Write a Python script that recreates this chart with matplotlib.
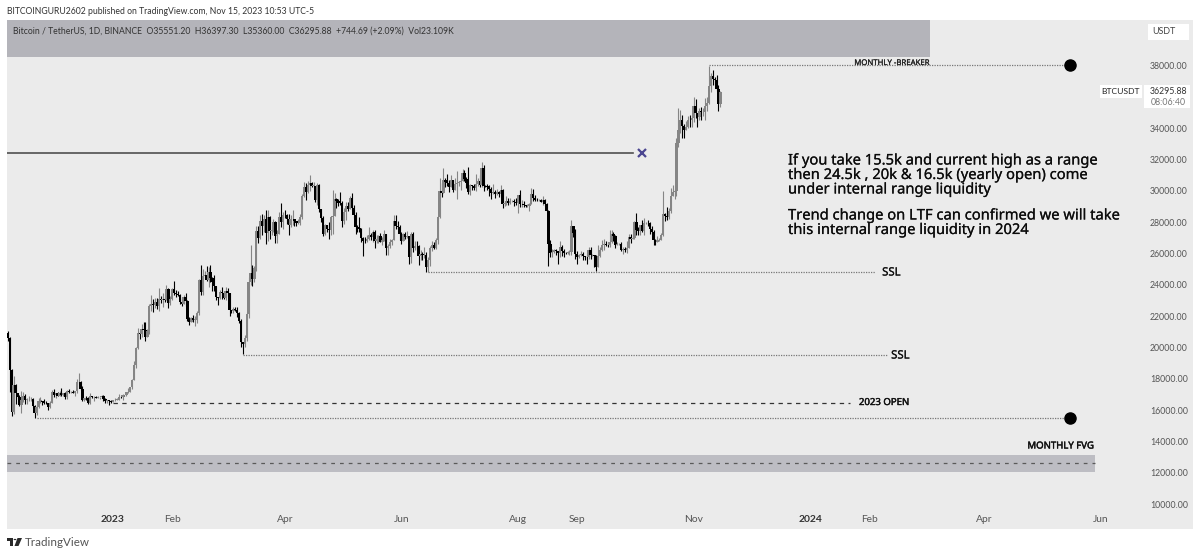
import matplotlib
matplotlib.use("Agg")
import matplotlib.pyplot as plt
import matplotlib.dates as mdates
import matplotlib.patheffects as pe
from matplotlib.patches import Rectangle, Polygon, Circle
import pandas as pd

closes = [
 20600,18540,15880,17590,17070,16810,16330,16620,16900,16660,16690,16700,16700,16280,15780,16220,16600,16600,16520,16460,16430,16210,16440,17160,
 16980,17090,16890,17110,16970,17090,16840,17220,17130,17130,17090,17210,17780,17810,17360,16630,16780,16740,16440,16900,16820,16830,16780,16840,16840,16920,16700,16550,16630,16600,16540,
 16620,16670,16670,16850,16830,16950,16940,17120,17180,17440,17940,18850,19930,20950,20870,21180,21130,20680,21070,22670,22780,22710,22920,22630,23060,23010,23080,23030,23740,22830,23120,
 23730,23490,23430,23330,22930,22760,23240,22960,21800,21630,21860,21780,21780,22200,24330,23520,24570,24630,24280,24840,24450,24190,23950,23190,23160,23560,23490,23140,
 23630,23470,22360,22350,22430,22410,22200,21700,20360,20190,20630,22160,24200,24750,24380,25050,27420,26970,28040,27770,28170,27310,28300,27450,27480,28000,27140,27270,28350,28030,28480,
 28450,28200,27810,28170,28170,28040,27920,27950,28330,29650,30240,29900,30400,30490,30320,30320,29440,30390,28820,28250,27260,27820,27590,27520,28310,28420,29480,29340,29240,29230,
 28070,28670,29030,28840,29530,28900,28450,27660,27630,27590,26970,26800,26780,26920,27170,27030,27400,26820,26890,27100,26750,26850,27220,26330,26470,26720,26870,28080,27740,27700,27210,
 26820,27250,27070,27120,25760,27240,26340,26500,26480,25850,25940,25900,25920,25120,25580,26340,26510,26340,26850,28310,30000,29890,30690,30550,30470,30270,30690,30080,30450,30470,
 30590,30620,31160,30770,30510,29900,30350,30290,30170,30410,30620,30390,31470,30320,30300,30250,30140,29860,29920,29800,29910,29800,30080,29180,29230,29350,29210,29320,29360,29280,29230,
 29700,29170,29180,29080,29040,29040,29180,29770,29560,29430,29400,29420,29280,29410,29170,28700,26620,26050,26100,26190,26130,26040,26430,26160,26050,26000,26090,26100,27720,27300,25940,
 25800,25870,25970,25810,25780,25750,26240,25900,25900,25840,25160,25840,26220,26530,26600,26570,26530,26760,27210,27130,26570,26580,26580,26250,26300,26210,26350,27030,26910,26960,
 27980,27500,27430,27790,27410,27930,27950,27920,27590,27390,26870,26760,26860,26860,27160,28500,28400,28320,28720,29680,29920,29990,33080,33900,34500,34150,33900,34090,34540,34490,34640,
 35420,34940,34730,35080,35040,35050,35420,35620,36700,37300,37130,37060,36490,35550,36296,
]
highs = [
 21050,20670,18590,18150,17660,17110,16930,17190,17130,17000,16740,16870,16820,16740,16290,16310,16770,16810,16600,16690,16600,16480,16600,17250,
 17320,17100,17160,17200,17430,17110,17140,17300,17360,17230,17270,17240,18000,18390,17840,17530,16800,16880,16820,17060,16920,16870,16880,16870,16860,16930,16950,16790,16650,16640,16640,
 16630,16760,16780,17040,16880,17040,16980,17170,17400,17490,18000,19100,20000,21260,21050,21470,21650,21650,21180,22750,23370,23080,23170,23160,23820,23280,23500,23190,23960,23770,23310,
 23810,24260,23680,23570,23440,23160,23360,23450,23010,21940,21910,22090,21990,22320,24380,25250,25020,24900,25190,25130,25280,24480,24600,23880,23240,23690,23880,23600,
 23880,23780,23480,22410,22610,22600,22550,22270,21820,20370,20790,22270,24500,26550,25250,25210,27760,27730,28470,28530,28440,28800,28750,28400,27800,28200,28040,27500,28650,29190,28650,
 28800,28530,28500,28450,28770,28190,28100,28180,28530,29770,30550,30490,30620,31000,30550,30550,30310,30490,30410,28740,28370,27880,27820,27980,28400,30020,29880,29570,29450,29950,
 29340,28880,29270,29260,29680,29850,29100,28630,27840,28330,27650,27040,27030,27200,27660,27290,27480,27490,27180,27150,27280,27050,27500,27220,26630,26930,26900,28450,28450,28040,27830,
 27340,27290,27340,27460,27130,27350,27400,26810,26780,26530,26210,26100,26430,26080,25750,26480,26770,26700,27000,28400,30800,30500,31430,30800,31060,30660,31000,30700,30830,31280,
 30650,30790,31380,31330,30890,31500,30450,30380,30450,31040,30810,30980,31820,31640,30390,30450,30340,30250,30410,30050,30100,29990,30350,30100,29350,29690,29570,29530,29410,29450,29530,
 29740,30050,29440,29320,29110,29170,29250,30190,30130,29710,29530,29470,29450,29640,29490,29230,28780,26830,26260,26300,26260,26140,26810,26560,26310,26110,26170,26240,28140,27760,27580,
 26130,25980,26130,26080,25860,25890,26440,26430,25950,25880,25880,26540,26400,26860,26890,26770,26620,27480,27490,27380,27160,26740,26640,26720,26420,26390,26820,27230,27230,27090,
 28050,28590,27660,27830,28120,28290,28000,28110,27990,27740,27480,26950,27100,26970,27290,30000,28600,28980,28930,30200,30350,30100,33400,35280,35130,34840,34250,34460,34750,34850,34720,
 35980,35880,34950,35280,35380,35280,35920,35990,37980,37530,37700,37240,37420,36770,36400,
]
lows = [
 20390,17170,15590,15750,16360,16750,16230,15815,16520,16400,16400,16550,16550,16170,15476,15700,16160,16460,16350,16400,16400,16000,16100,16420,
 16860,16790,16880,16870,16910,16900,16680,16730,17080,17090,17070,16870,17100,17660,17280,16580,16580,16650,16400,16400,16740,16590,16760,16790,16730,16790,16590,16470,16460,16330,16470,
 16490,16550,16610,16650,16750,16670,16910,16910,17100,17140,17320,17900,18700,19890,20550,20660,20830,20400,20650,20860,22330,22290,22500,22460,22350,22860,22560,22880,23000,22530,22700,
 23000,23350,23210,23260,22750,22630,22740,22660,21690,21450,21600,21620,21350,21530,22050,23370,23340,24450,24230,23850,24150,23580,23620,23030,22720,23060,23110,23060,
 23020,23220,22000,22200,22210,22340,21950,21580,20050,19550,20030,20440,21900,23970,23900,24200,24890,26650,26920,27200,27350,26620,26800,26900,27170,27380,26650,26680,27230,27700,27560,
 28250,27870,27200,27680,27830,27740,27780,27880,27800,28170,29620,29420,29870,30000,30230,30130,29270,29100,28630,28010,27130,27150,27350,26950,27200,27240,28380,28880,29060,29080,
 27670,27880,28130,28680,28830,28800,28260,27270,27370,27370,26730,25810,26690,26740,26870,26870,26730,26360,26680,26690,26720,26530,26820,25870,25870,26340,26550,26830,27530,27570,26860,
 26600,26930,26950,26970,25350,25400,26120,26200,26310,25260,25610,25600,25730,24820,24800,25170,26180,26300,26260,26620,28260,29580,29830,30270,30290,29920,30220,29900,30060,29480,
 30320,30050,30650,30620,30190,29800,29710,30060,30070,29960,30330,30250,30250,29970,30250,30070,29660,29500,29770,29570,29730,29630,29740,28900,29050,29110,29080,29150,29270,29030,29110,
 28590,28950,28950,28960,28970,28960,28700,29150,29360,29320,29350,29360,29260,29100,29060,28710,25170,25800,25800,26020,25880,25350,25800,25860,25780,25970,25980,25880,25920,27020,25660,
 25330,25720,25820,25590,25570,25350,25620,25640,25810,25120,24900,25130,25770,26130,26230,26480,26390,26380,26670,26800,26370,26510,26520,26130,25990,26090,26040,26330,26660,26890,
 26950,27200,27160,27170,27340,27200,27860,27730,27260,27300,26560,26530,26700,26810,26830,27120,28090,28140,28170,28600,29670,29470,29660,32800,33700,33400,33350,33870,34030,34050,34080,
 34420,34640,34090,34550,34530,34750,34530,35110,35540,36330,36760,36770,36350,35100,35360,
]
first_open = 20900
first_date = "2022-11-07"
if not (len(closes) == len(highs) == len(lows)):
    raise ValueError(f"lengths {len(closes)} {len(highs)} {len(lows)}")

price_ticks = [38000, 34000, 32000, 30000, 28000, 26000, 24000, 22000, 20000,
               18000, 16000, 14000, 12000, 10000]
time_ticks = ["2023-01-01", "2023-02-01", "2023-04-01", "2023-06-01", "2023-08-01",
              "2023-09-01", "2023-11-01", "2024-01-01", "2024-02-01", "2024-04-01", "2024-06-01"]
time_labels = ["2023", "Feb", "Apr", "Jun", "Aug", "Sep", "Nov", "2024", "Feb", "Apr", "Jun"]
bold_time_labels = {"2023", "2024"}

resistance_level = 32400
breaker_level = 38000
ssl_upper = 24810
ssl_lower = 19510
open_2023 = 16480
range_low = 15490
fvg_top, fvg_bottom, fvg_mid = 13130, 12050, 12620
header_floor = 38540

NOTE_FONT = "Noto Sans"
UI_FONT = "Lato"
plt.rcParams["font.family"] = [UI_FONT, "DejaVu Sans"]
W, H = 1200, 555
BG = "#ebebeb"
UP, DOWN = "#858585", "#000000"
BAND = "#b4b4ba"
BAND2 = "#bdbdc3"

fig = plt.figure(figsize=(W / 100, H / 100), dpi=100, facecolor="white")
ax = fig.add_axes([7 / W, (H - 529) / H, 1186 / W, 509 / H], facecolor=BG)

def fx(x): return x / W
def fy(y): return 1 - y / H

dates = pd.date_range(first_date, periods=len(closes), freq="D")
x = mdates.date2num(dates)
opens = [first_open] + closes[:-1]
colors = [UP if c >= o else DOWN for o, c in zip(opens, closes)]
ax.vlines(x, [min(l, o, c) for l, o, c in zip(lows, opens, closes)],
          [max(h, o, c) for h, o, c in zip(highs, opens, closes)],
          colors=colors, lw=0.8, zorder=3)
ax.bar(x, [c - o if c != o else 20 for o, c in zip(opens, closes)], bottom=opens,
       width=1.25, color=colors, lw=0, zorder=3)

d = lambda s: mdates.date2num(pd.Timestamp(s))
xl = (d("2023-01-01") - 106 / 1.91, d("2023-01-01") + 1080 / 1.91)
ax.set_xlim(*xl)
ax.set_ylim(8404, 40905)

# zones
ax.fill_between([xl[0], d("2024-03-04")], header_floor, 40905, color=BAND, lw=0, zorder=1)
ax.fill_between([xl[0], d("2024-05-29")], fvg_bottom, fvg_top, color=BAND2, lw=0, zorder=1)
ax.plot([xl[0], d("2024-05-29")], [fvg_mid] * 2, color="#5a5a5a", lw=0.9, ls=(0, (3, 4)), zorder=2)

# levels
ax.plot([xl[0], d("2023-09-30")], [resistance_level] * 2, color="#505050", lw=1.2, zorder=2)
ax.plot([d("2023-10-05")], [resistance_level], marker="x", ms=6, mew=1.6, color="#4b4690", ls="none", zorder=4)
dot = dict(color="#777777", lw=0.9, ls=(0, (1, 1)), zorder=2)
ax.plot([d("2023-11-09"), d("2024-05-16")], [breaker_level] * 2, **dot)
ax.plot([d("2023-06-15"), d("2024-02-04")], [ssl_upper] * 2, **dot)
ax.plot([d("2023-03-10"), d("2024-02-11")], [ssl_lower] * 2, **dot)
ax.plot([d("2022-11-22"), d("2024-05-16")], [range_low] * 2, **dot)
ax.plot([d("2023-01-01"), d("2024-01-22")], [open_2023] * 2, color="#333333", lw=0.9, ls=(0, (3.5, 3.5)), zorder=2)
ax.plot([d("2024-05-16")] * 2, [breaker_level, range_low], marker="o", ms=8, color="#000000", ls="none", zorder=5)

# axes
for s in ax.spines.values():
    s.set_visible(False)
ax.set_xticks([d(t) for t in time_ticks])
ax.set_xticklabels(time_labels)
ax.set_yticks(price_ticks)
ax.set_yticklabels([f"{p:.2f}" for p in price_ticks])
ax.yaxis.tick_right()
ax.tick_params(axis="y", length=0, pad=-31, labelsize=6.3, labelcolor="#555555")
ax.tick_params(axis="x", length=0, pad=-10, labelsize=7.4, labelcolor="#555555")
for lab in ax.get_xticklabels():
    if lab.get_text() in bold_time_labels:
        lab.set_fontweight("bold")
        lab.set_color("#333333")

# white boxes on the price scale
def pxbox(x0, y0, x1, y1):
    fig.add_artist(Rectangle((fx(x0), fy(y1)), (x1 - x0) / W, (y1 - y0) / H,
                             transform=fig.transFigure, color="white", lw=0, zorder=6))
pxbox(1148, 24, 1189, 40)
pxbox(1144, 85, 1190, 108)
pxbox(1100, 85, 1142, 98)

def t(px, py, s, size=6.3, color="#333333", ha="left", weight="normal", family=None, stroke=0):
    txt = fig.text(fx(px), fy(py), s, fontsize=size, color=color, ha=ha, va="center",
                   fontweight=weight, zorder=7, family=family or [UI_FONT, "DejaVu Sans"])
    if stroke:
        txt.set_path_effects([pe.withStroke(linewidth=stroke, foreground=color)])

t(1164, 32, "USDT", ha="center", color="#444444", size=6.4)
t(1121, 92, "BTCUSDT", ha="center", size=6.1, color="#222222")
t(1168, 92, "36295.88", ha="center", color="#333333")
t(1168, 102.5, "08:06:40", ha="center", color="#777777")

t(7, 11, "BITCOINGURU2602 published on TradingView.com, Nov 15, 2023 10:53 UTC-5", size=6.2)
t(13, 31, "Bitcoin / TetherUS, 1D, BINANCE  O35551.20  H36397.30  L35360.00  C36295.88  +744.69 (+2.09%)  Vol23.109K", size=6.2)

NF = [NOTE_FONT, "DejaVu Sans"]
t(892, 63.5, "MONTHLY -BREAKER", ha="center", size=5.6, color="#222222", family=NF, stroke=0.15)
t(891.5, 273, "SSL", ha="center", size=8.2, color="#111111", family=NF, stroke=0.15)
t(900.5, 356, "SSL", ha="center", size=8.2, color="#111111", family=NF, stroke=0.15)
t(884, 402.5, "2023 OPEN", ha="center", size=6.9, color="#111111", family=NF, stroke=0.3)
t(1060.5, 446, "MONTHLY FVG", ha="center", size=6.9, color="#111111", family=NF, stroke=0.3)

notes = [(161, "If you take 15.5k and current high as a range"),
         (175.5, "then 24.5k , 20k & 16.5k (yearly open) come"),
         (190, "under internal range liquidity"),
         (216, "Trend change on LTF can confirmed we will take"),
         (230.5, "this internal range liquidity in 2024")]
for py, s in notes:
    t(788, py, s, size=10.6, color="#0c0c0c", family=NF, stroke=0.12)

# TradingView mark
def poly(pts):
    fig.add_artist(Polygon([(fx(a), fy(b)) for a, b in pts], closed=True,
                           transform=fig.transFigure, color="#2a2a2a", lw=0, zorder=7))
poly([(7, 538), (13, 538), (13, 546), (10, 546), (10, 541), (7, 541)])
poly([(17.5, 538), (22, 538), (18.5, 546), (14.5, 546)])
fig.add_artist(Circle((fx(15), fy(539.5)), 1.4 / W, transform=fig.transFigure, color="#2a2a2a", lw=0, zorder=7))
t(25, 542, "TradingView", size=8.4, color="#555555")

fig.savefig("out.png", dpi=100, facecolor="white")
